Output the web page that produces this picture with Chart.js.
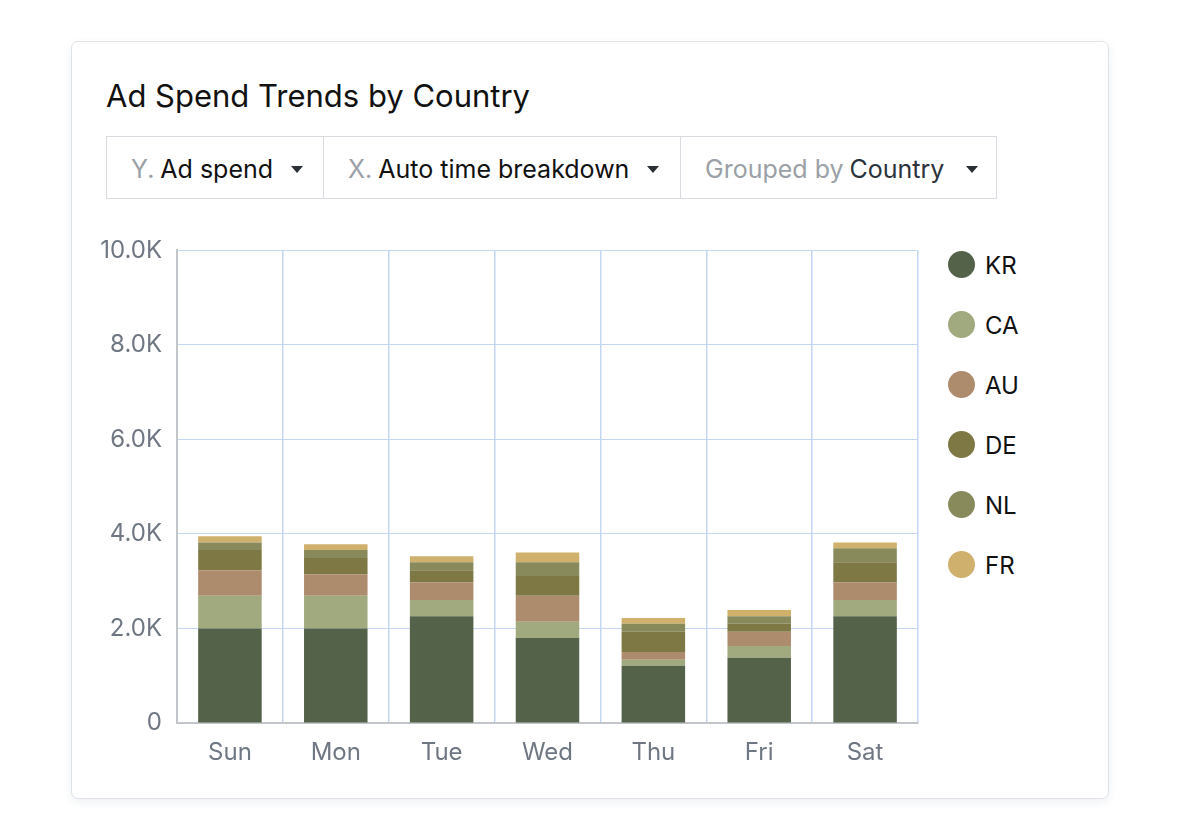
<!DOCTYPE html>
<html>
<head>
<meta charset="utf-8">
<script src="https://cdn.jsdelivr.net/npm/chart.js@4.4.0/dist/chart.umd.min.js"></script>
<style>
  body { margin: 0; background: #fff; font-family: Inter, "Noto Sans", sans-serif; }
  .card {
    position: absolute; left: 71px; top: 41px; width: 1036px; height: 756px;
    border: 1px solid #dfe3e8; border-radius: 7px; background: #fff;
    box-shadow: 0 3px 10px rgba(30, 60, 90, 0.08);
  }
  .title { position: absolute; left: 106px; top: 77px; font-size: 31px; color: #111; }
  .pickers { position: absolute; left: 107px; top: 136px; height: 62px; display: flex; }
  .pick {
    box-sizing: border-box; height: 63px; border: 1px solid #d8dbdf; margin-left: -1px;
    display: flex; align-items: center; padding-left: 24px; padding-top: 3px; font-size: 25px; color: #111;
  }
  .pick .dim { color: #9aa0a6; margin-right: 6px; }
  .pick .caret {
    width: 0; height: 0; border-left: 6px solid transparent; border-right: 6px solid transparent;
    border-top: 7px solid #2b2f36; margin-left: 18px;
  }
  .chartbox { position: absolute; left: 90px; top: 221px; width: 830px; height: 559px; }
  .legend { position: absolute; left: 948px; top: 251px; }
  .legend div { height: 60px; display: flex; align-items: flex-start; font-size: 24px; color: #111; }
  .legend span.dot { width: 27px; height: 27px; border-radius: 50%; margin-right: 10px; }
  .legend span.lab { line-height: 29px; }
</style>
</head>
<body>
<div class="card"></div>
<div class="title">Ad Spend Trends by Country</div>
<div class="pickers">
  <div class="pick" style="width:218px"><span class="dim">Y.</span>Ad spend<span class="caret"></span></div>
  <div class="pick" style="width:358px"><span class="dim">X.</span>Auto time breakdown<span class="caret"></span></div>
  <div class="pick" style="width:317px"><span class="dim">Grouped by</span><span style="color:#2b323b">Country</span><span class="caret" style="margin-left:22px"></span></div>
</div>
<div class="chartbox"><canvas id="chart"></canvas></div>
<div class="legend" id="legend"></div>
<script>
const days = ['Sun', 'Mon', 'Tue', 'Wed', 'Thu', 'Fri', 'Sat'];
const countries = ['KR', 'CA', 'AU', 'DE', 'NL', 'FR'];
const colors = ['#55624a', '#a1a97f', '#ad8b6d', '#7e7845', '#888a5c', '#cfb06d'];

// ad spend per day, one array per country (stack order bottom -> top)
const krSpend = [2000, 2000, 2260, 1800, 1210, 1380, 2260];
const caSpend = [690, 690, 340, 340, 130, 250, 340];
const auSpend = [540, 460, 380, 550, 160, 300, 380];
const deSpend = [430, 340, 250, 420, 430, 170, 420];
const nlSpend = [160, 170, 170, 290, 170, 160, 300];
const frSpend = [130, 120, 130, 210, 120, 130, 120];

const yTicks = [0, 2000, 4000, 6000, 8000, 10000];

const series = [krSpend, caSpend, auSpend, deSpend, nlSpend, frSpend];

const gridBlue = '#c3d7f3';
const axisGray = '#c2c6cb';
const tickGray = '#6f7782';

const ctx = document.getElementById('chart').getContext('2d');
new Chart(ctx, {
    type: 'bar',
    data: {
        labels: days,
        datasets: series.map((vals, i) => ({
            label: countries[i],
            data: vals,
            backgroundColor: colors[i],
            borderWidth: 0,
            barPercentage: 0.6,
            categoryPercentage: 1.0
        }))
    },
    options: {
        responsive: true,
        maintainAspectRatio: false,
        animation: false,
        layout: { padding: { top: 9, right: 2, left: 0, bottom: 0 } },
        plugins: {
            legend: { display: false },
            tooltip: { enabled: false }
        },
        scales: {
            x: {
                stacked: true,
                grid: { color: gridBlue, lineWidth: 1.5, drawTicks: false, offset: true },
                border: { color: axisGray, width: 2 },
                ticks: { color: tickGray, font: { family: 'Inter', size: 24 }, padding: 15 },
                afterFit: s => { s.height = 57; }
            },
            y: {
                stacked: true,
                min: 0,
                max: 10000,
                afterBuildTicks: s => { s.ticks = yTicks.map(v => ({ value: v })); },
                grid: { color: gridBlue, lineWidth: 1, drawTicks: false },
                border: { color: axisGray, width: 2 },
                ticks: {
                    color: tickGray,
                    font: { family: 'Inter', size: 24 },
                    padding: 15,
                    callback: v => v === 0 ? '0' : (v / 1000).toFixed(1) + 'K'
                },
                afterFit: s => { s.width = 87; }
            }
        }
    }
});

// legend built from the same arrays
const legend = document.getElementById('legend');
countries.forEach((c, i) => {
    const row = document.createElement('div');
    row.innerHTML = '<span class="dot" style="background:' + colors[i] + '"></span><span class="lab">' + c + '</span>';
    legend.appendChild(row);
});
</script>
</body>
</html>
